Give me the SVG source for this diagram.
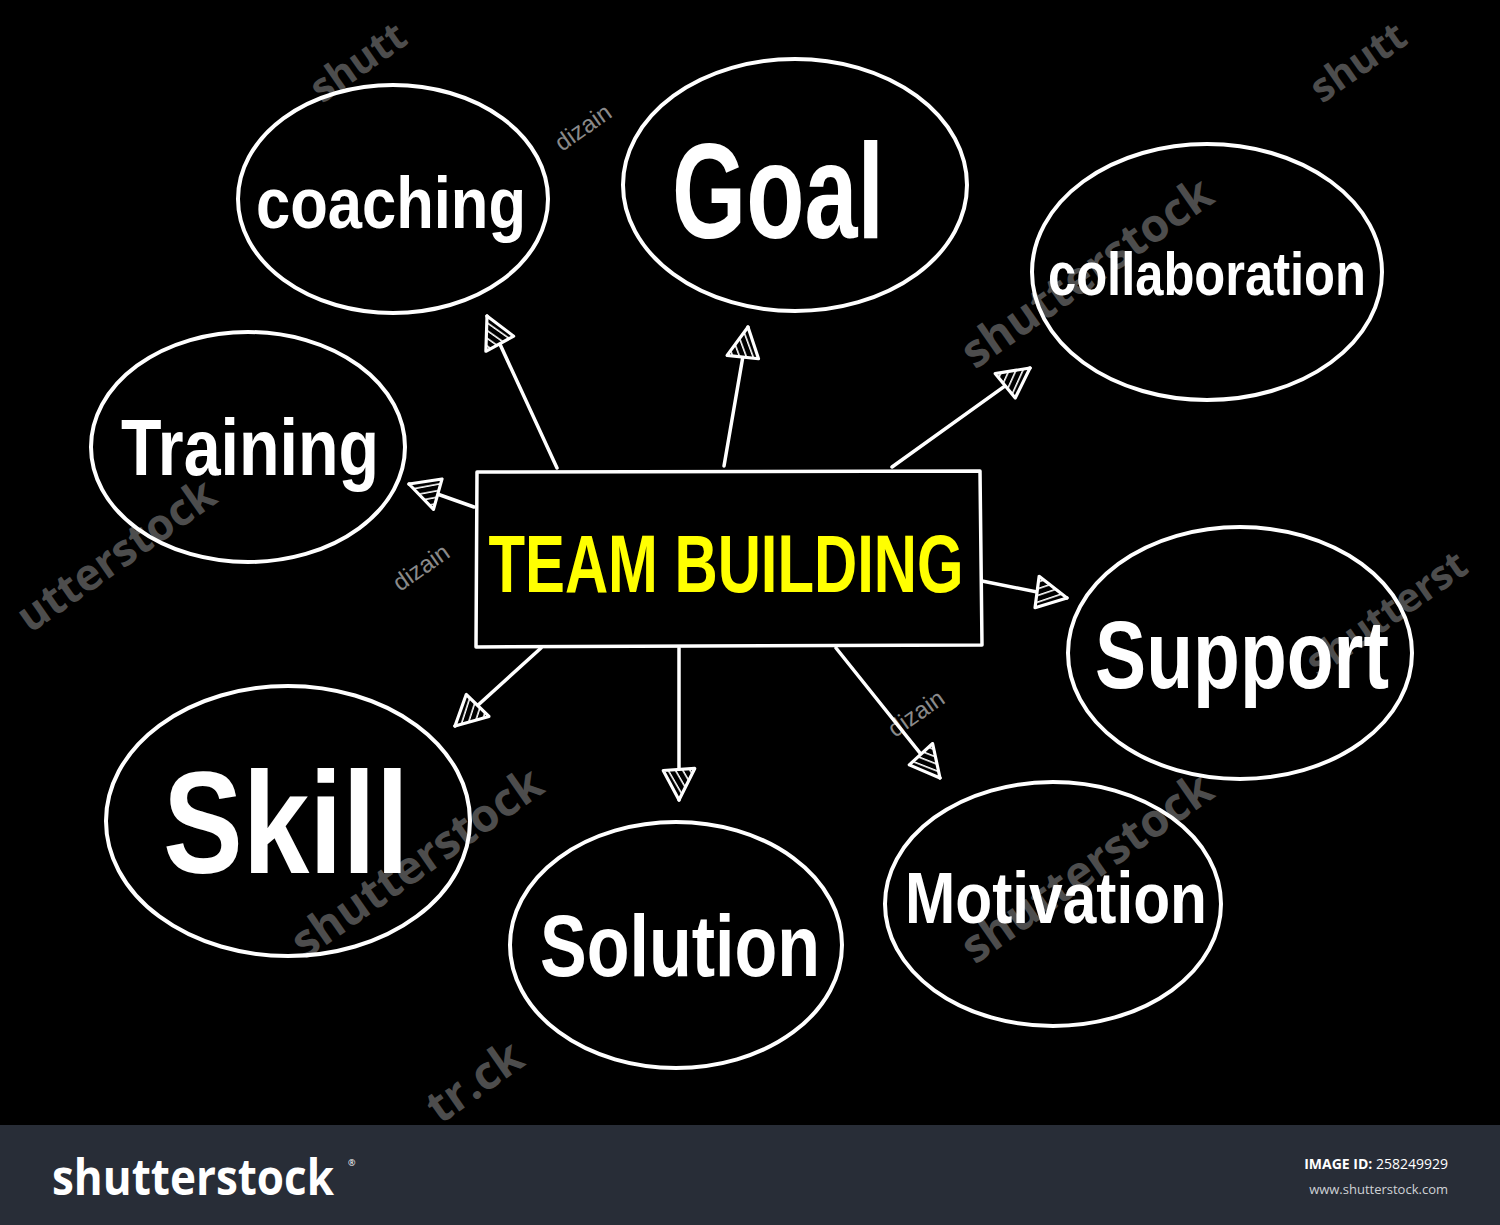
<svg xmlns="http://www.w3.org/2000/svg" width="1500" height="1225" viewBox="0 0 1500 1225">
<style>
.node ellipse{fill:none;stroke:#fff;stroke-width:4}
.lbl{fill:#fff;font-family:"Liberation Sans Narrow","Liberation Sans",sans-serif;font-weight:bold;text-anchor:middle}
.conn line{stroke:#fff;stroke-width:3.5;stroke-linecap:round}
.wm{fill:#9a9a9a;opacity:0.5;font-family:"Open Sans","Liberation Sans",sans-serif;font-weight:bold}
.dz{fill:#8a8a8a;font-family:"Liberation Sans",sans-serif;font-size:24px}
</style>
<defs>
<pattern id="hatch" width="6" height="6" patternUnits="userSpaceOnUse" patternTransform="rotate(60)">
<rect width="6" height="6" fill="#000"/>
<line x1="0" y1="0" x2="0" y2="6" stroke="#fff" stroke-width="3"/>
</pattern>
<marker id="arr" markerUnits="userSpaceOnUse" markerWidth="40" markerHeight="40" viewBox="-34 -18 38 36" refX="0" refY="0" orient="auto">
<path d="M0,0 L-30,-15 L-28,15 Z" fill="url(#hatch)" stroke="#fff" stroke-width="3" stroke-linejoin="round"/>
</marker>
</defs>
<rect width="1500" height="1225" fill="#000"/>

<g id="watermarks">
<text class="wm" font-size="40" transform="translate(322,104) rotate(-35)">shutt</text>
<text class="wm" font-size="40" transform="translate(1322,104) rotate(-35)">shutt</text>
<text class="wm" font-size="46" transform="translate(975,370) rotate(-35)">shutterstock</text>
<text class="wm" font-size="44" transform="translate(30,634) rotate(-35)">utterstock</text>
<text class="wm" font-size="46" transform="translate(305,960) rotate(-35)">shutterstock</text>
<text class="wm" font-size="46" transform="translate(975,965) rotate(-35)">shutterstock</text>
<text class="wm" font-size="40" transform="translate(1318,678) rotate(-35)">shutterst</text>
<text class="wm" font-size="46" transform="translate(440,1125) rotate(-35)">tr.ck</text>
<text class="dz" transform="translate(562,152) rotate(-35)">dizain</text>
<text class="dz" transform="translate(400,592) rotate(-35)">dizain</text>
<text class="dz" transform="translate(895,738) rotate(-35)">dizain</text>
</g>

<g id="connectors" class="conn">
<line x1="557" y1="468" x2="487" y2="316" marker-end="url(#arr)"/>
<line x1="724" y1="466" x2="748" y2="327" marker-end="url(#arr)"/>
<line x1="892" y1="467" x2="1030" y2="368" marker-end="url(#arr)"/>
<line x1="474" y1="507" x2="409" y2="484" marker-end="url(#arr)"/>
<line x1="982" y1="581" x2="1067" y2="598" marker-end="url(#arr)"/>
<line x1="541" y1="648" x2="455" y2="726" marker-end="url(#arr)"/>
<line x1="679" y1="648" x2="679" y2="800" marker-end="url(#arr)"/>
<line x1="836" y1="648" x2="940" y2="778" marker-end="url(#arr)"/>
</g>

<g id="center">
<path d="M477,472 L980,471 L982,645 L476,647 Z" fill="#000" stroke="#fff" stroke-width="3.5" stroke-linejoin="round"/>
<text x="726" y="592" font-family="'Liberation Sans Narrow','Liberation Sans',sans-serif" font-weight="bold" font-size="82" fill="#ffff00" text-anchor="middle" textLength="475" lengthAdjust="spacingAndGlyphs">TEAM BUILDING</text>
</g>

<g id="coaching" class="node">
<ellipse cx="393" cy="199" rx="155" ry="114"/>
<text class="lbl" x="391" y="228" font-size="72" textLength="270" lengthAdjust="spacingAndGlyphs">coaching</text>
</g>
<g id="goal" class="node">
<ellipse cx="795" cy="185" rx="172" ry="126"/>
<text class="lbl" x="778" y="238" font-size="135" textLength="212" lengthAdjust="spacingAndGlyphs">Goal</text>
</g>
<g id="collaboration" class="node">
<ellipse cx="1207" cy="272" rx="175" ry="128"/>
<text class="lbl" x="1207" y="295" font-size="62" textLength="318" lengthAdjust="spacingAndGlyphs">collaboration</text>
</g>
<g id="training" class="node">
<ellipse cx="248" cy="447" rx="157" ry="115"/>
<text class="lbl" x="250" y="475" font-size="80" textLength="258" lengthAdjust="spacingAndGlyphs">Training</text>
</g>
<g id="support" class="node">
<ellipse cx="1240" cy="653" rx="172" ry="126"/>
<text class="lbl" x="1242" y="688" font-size="96" textLength="294" lengthAdjust="spacingAndGlyphs">Support</text>
</g>
<g id="skill" class="node">
<ellipse cx="288" cy="821" rx="182" ry="135"/>
<text class="lbl" x="286" y="873" font-size="145" textLength="246" lengthAdjust="spacingAndGlyphs">Skill</text>
</g>
<g id="solution" class="node">
<ellipse cx="676" cy="945" rx="166" ry="123"/>
<text class="lbl" x="680" y="976" font-size="88" textLength="280" lengthAdjust="spacingAndGlyphs">Solution</text>
</g>
<g id="motivation" class="node">
<ellipse cx="1053" cy="904" rx="168" ry="122"/>
<text class="lbl" x="1056" y="923" font-size="72" textLength="302" lengthAdjust="spacingAndGlyphs">Motivation</text>
</g>

<g id="footer">
<rect x="0" y="1125" width="1500" height="100" fill="#282d37"/>
<text x="52" y="1195" font-family="'Open Sans','Liberation Sans',sans-serif" font-weight="bold" font-size="50" fill="#fff" textLength="282" lengthAdjust="spacingAndGlyphs">shutterstock</text>
<text x="348" y="1166" font-family="'Open Sans','Liberation Sans',sans-serif" font-size="9" fill="#fff">®</text>
<text x="1448" y="1169" font-family="'Open Sans','Liberation Sans',sans-serif" font-size="14" fill="#fff" text-anchor="end"><tspan font-weight="bold">IMAGE ID:</tspan> 258249929</text>
<text x="1448" y="1194" font-family="'Open Sans','Liberation Sans',sans-serif" font-size="13" fill="#cfd2d6" text-anchor="end">www.shutterstock.com</text>
</g>
</svg>
